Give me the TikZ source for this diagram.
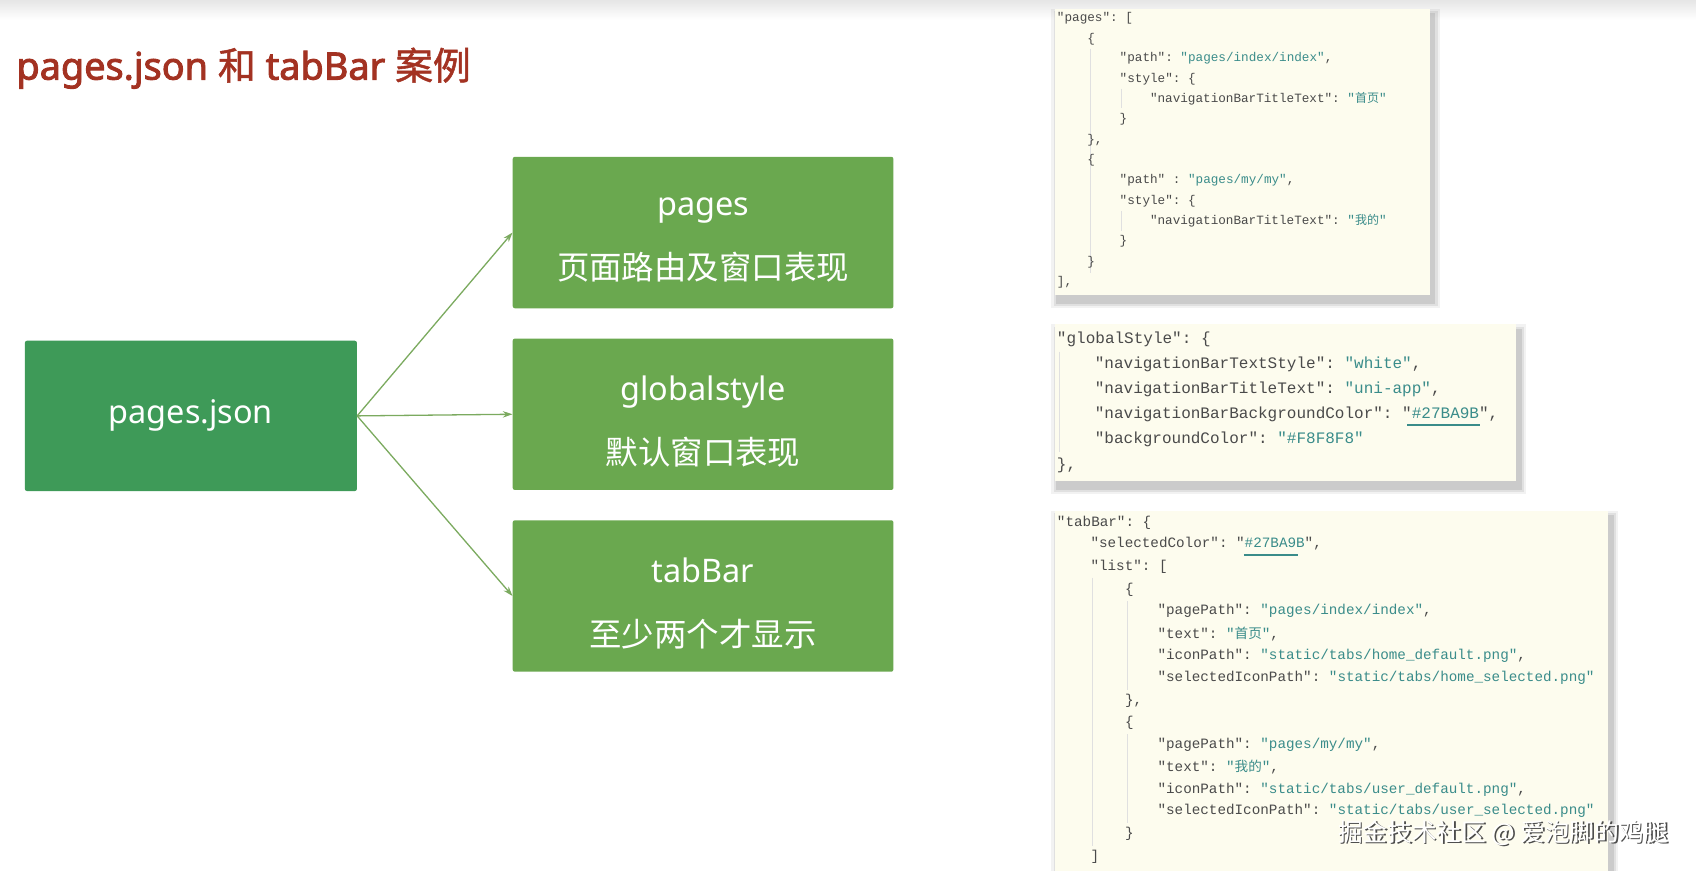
\documentclass[tikz,border=0pt]{standalone}
\usepackage{fontspec}
\usetikzlibrary{arrows.meta}
\setmainfont{Noto Sans}
\newfontfamily\cjk{Noto Sans CJK SC}
\newfontfamily\cjkb{Noto Sans CJK SC}[FakeBold=1.4]
\newfontfamily\latb{Noto Sans}[FakeBold=2.4]
\setmonofont{Liberation Mono}
\definecolor{titlered}{HTML}{A33222}
\definecolor{darkg}{HTML}{3E9A58}
\definecolor{lightg}{HTML}{6AA84F}
\definecolor{arrowg}{HTML}{7BAA5F}
\definecolor{panelbg}{HTML}{FDFCEE}
\definecolor{keyc}{HTML}{4A4A4A}
\definecolor{strc}{HTML}{3A8C8A}
\newcommand{\sv}[1]{\textcolor{strc}{#1}}
\newlength{\fsz}
\newcommand{\cjs}[1]{{\cjk\fontsize{0.95\fsz}{1}\selectfont #1}}
\tikzset{
  box/.style={rounded corners=2pt, draw=none, minimum width=352pt, minimum height=140pt, fill=lightg},
  boxtext/.style={text=white, align=center, font=\fontsize{30}{59}\selectfont, inner sep=0pt},
  arr/.style={draw=arrowg, line width=1.2pt, -{Stealth[length=9pt,width=6pt]}},
  code/.style={anchor=west, inner sep=0pt, text=keyc},
}
\newcommand{\panel}[5]{% name x1 y1 x2 y2
  \foreach \i/\o in {6/0.05,4/0.07,2/0.09}{
    \fill[black,opacity=\o] (#2-\i+3,#3-\i+6) rectangle (#4+\i+3,#5+\i+6);}
  \fill[panelbg] (#2,#3) coordinate (#1a) rectangle (#4,#5) coordinate (#1b);}
\newcommand{\cl}[4]{\node[code] (#1) at (#2,#3) {#4};}
\begin{document}
\begin{tikzpicture}[x=1pt,y=-1pt]
\useasboundingbox (0,0) rectangle (1568,805);
\fill[white] (0,0) rectangle (1568,805);
\shade[top color=black!10, bottom color=white] (0,0) rectangle (1568,18);
% title
\node[anchor=west, text=titlered, font=\latb\fontsize{35}{36}\selectfont, inner sep=0pt] (title) at (15,63) {pages.json {\cjkb 和} tabBar {\cjkb 案例}};
% boxes
\node[box, fill=darkg, minimum width=307pt, minimum height=139pt] (root) at (176.5,384.5) {};
\node[boxtext] (roott) at (176.5,384.5) {pages.json};
\node[box] (b1) at (650,215) {};
\node[box] (b2) at (650,383) {};
\node[box] (b3) at (650,551) {};
\node[boxtext] (b1t) at (650,222) {pages\\{\cjk 页面路由及窗口表现}};
\node[boxtext] (b2t) at (650,390) {globalstyle\\{\cjk 默认窗口表现}};
\node[boxtext] (b3t) at (650,558) {tabBar\\{\cjk 至少两个才显示}};
\coordinate (src) at (root.east);
\draw[arr] (src) -- (b1.west);
\draw[arr] (src) -- (b2.west);
\draw[arr] (src) -- (b3.west);
% panel 1
\panel{p1}{975}{8}{1322}{273}
\begin{scope}[every node/.append style={font=\ttfamily\fontsize{11.7}{12}\selectfont}]
\setlength{\fsz}{11.7pt}
\draw[black!12] (1008,45)--(1008,252) (1037,82)--(1037,100) (1037,195)--(1037,214);
\cl{a1}{977}{17}{"pages": [}
\cl{a2}{1005}{36}{\{}
\cl{a3}{1035}{54}{"path": \sv{"pages/index/index"},}
\cl{a4}{1035}{73}{"style": \{}
\cl{a5}{1063}{91}{"navigationBarTitleText": \sv{"\cjs{首页}"}}
\cl{a6}{1035}{110}{\}}
\cl{a7}{1005}{130}{\},}
\cl{a8}{1005}{148}{\{}
\cl{a9}{1035}{167}{"path" : \sv{"pages/my/my"},}
\cl{a10}{1035}{186}{"style": \{}
\cl{a11}{1063}{204}{"navigationBarTitleText": \sv{"\cjs{我的}"}}
\cl{a12}{1035}{223}{\}}
\cl{a13}{1005}{242}{\}}
\cl{a14}{977}{261}{],}
\end{scope}
% panel 2
\panel{p2}{975}{300}{1402}{445}
\begin{scope}[every node/.append style={font=\ttfamily\fontsize{14.8}{15}\selectfont}]
\draw[black!12] (979,325)--(979,418);
\cl{g1}{977}{314}{"globalStyle": \{}
\cl{g2}{1012}{337}{"navigationBarTextStyle": \sv{"white"},}
\cl{g3}{1012}{360}{"navigationBarTitleText": \sv{"uni-app"},}
\cl{g4}{1012}{383}{"navigationBarBackgroundColor": "\sv{\#27BA9B}",}
\cl{g5}{1012}{406}{"backgroundColor": \sv{"\#F8F8F8"}}
\cl{g6}{977}{430}{\},}
\draw[strc, line width=1.5pt] (1301,393) -- (1368,393);
\end{scope}
% panel 3
\panel{p3}{975}{472}{1487}{812}
\begin{scope}[every node/.append style={font=\ttfamily\fontsize{13.2}{14}\selectfont}]
\setlength{\fsz}{13.2pt}
\draw[black!12] (1010,534)--(1010,782) (1042,556)--(1042,638) (1042,679)--(1042,761);
\cl{t1}{977}{483}{"tabBar": \{}
\cl{t2}{1008}{503}{"selectedColor": "\sv{\#27BA9B}",}
\cl{t3}{1008}{524}{"list": [}
\cl{t4}{1040}{545}{\{}
\cl{t5}{1070}{565}{"pagePath": \sv{"pages/index/index"},}
\cl{t6}{1070}{586}{"text": \sv{"\cjs{首页}"},}
\cl{t7}{1070}{606}{"iconPath": \sv{"static/tabs/home\_default.png"},}
\cl{t8}{1070}{627}{"selectedIconPath": \sv{"static/tabs/home\_selected.png"}}
\cl{t9}{1040}{648}{\},}
\cl{t10}{1040}{668}{\{}
\cl{t11}{1070}{689}{"pagePath": \sv{"pages/my/my"},}
\cl{t12}{1070}{709}{"text": \sv{"\cjs{我的}"},}
\cl{t13}{1070}{730}{"iconPath": \sv{"static/tabs/user\_default.png"},}
\cl{t14}{1070}{750}{"selectedIconPath": \sv{"static/tabs/user\_selected.png"}}
\cl{t15}{1040}{771}{\}}
\cl{t16}{1008}{792}{]}
\draw[strc, line width=1.5pt] (1150,513) -- (1200,513);
\end{scope}
% watermark
\node[anchor=west, text=black!70, font=\cjk\fontsize{22.8}{24}\selectfont, inner sep=0pt] (wms) at (1238.5,771.5) {掘金技术社区 @ 爱泡脚的鸡腿};
\node[anchor=west, text=white, font=\cjk\fontsize{22.8}{24}\selectfont, inner sep=0pt] (wm) at (1237,770) {掘金技术社区 @ 爱泡脚的鸡腿};
\end{tikzpicture}
\end{document}
